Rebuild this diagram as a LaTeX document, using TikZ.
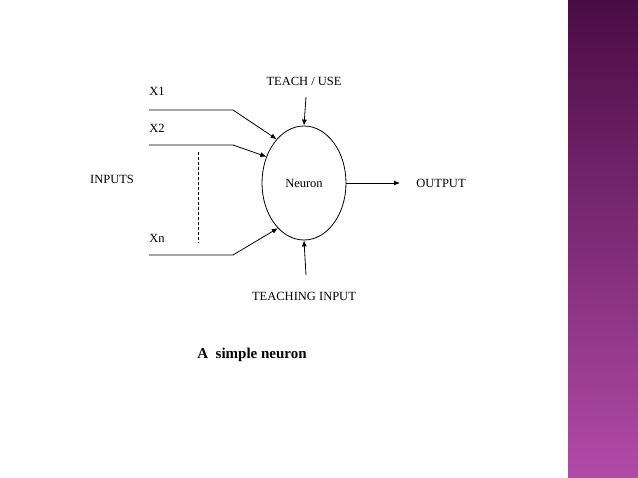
\documentclass[tikz,border=0pt]{standalone}
\usepackage{fontspec}
\setmainfont{Liberation Serif}
\usetikzlibrary{shapes.geometric,arrows.meta}
\definecolor{bandtop}{HTML}{4A0C45}
\definecolor{bandbot}{HTML}{B24BA8}
\begin{document}
\begin{tikzpicture}[x=1pt,y=-1pt,
  lbl/.style={font=\fontsize{12.5}{14}\selectfont, inner sep=1pt},
  wire/.style={line width=0.8pt},
  arr/.style={wire,-{Latex[length=6pt,width=5pt]}}]
\useasboundingbox (0,0) rectangle (638,478);
\fill[white] (0,0) rectangle (638,478);
\shade[top color=bandtop,bottom color=bandbot] (568,0) rectangle (638,478);
\node[ellipse,draw,line width=0.8pt,minimum width=84pt,minimum height=114pt,inner sep=0pt,lbl] (n) at (304,183) {Neuron};
\node[lbl] (x1) at (157,91) {X1};
\node[lbl] (x2) at (157,128) {X2};
\node[lbl] (xn) at (157,238) {Xn};
\node[lbl] (inp) at (112,179) {INPUTS};
\node[lbl] (tu) at (304,81) {TEACH / USE};
\node[lbl] (ti) at (304,296) {TEACHING INPUT};
\node[lbl] (out) at (441,183) {OUTPUT};
\node[font=\bfseries\fontsize{15}{17}\selectfont] (cap) at (252,355) {A\ \ simple neuron};
\coordinate (a1) at (149,110); \coordinate (b1) at (233,110);
\coordinate (a2) at (149,145); \coordinate (b2) at (233,145);
\coordinate (an) at (149,255); \coordinate (bn) at (233,255);
\coordinate (d1) at (198,152); \coordinate (d2) at (198,243);
\coordinate (ts) at (306,97); \coordinate (bs) at (306,275);
\coordinate (oe) at (400,183);
\draw[arr] (a1) -- (b1) -- (n.122);
\draw[arr] (a2) -- (b2) -- (n.145);
\draw[arr] (an) -- (bn) -- (n.240);
\draw[densely dashed,line width=0.5pt] (d1) -- (d2);
\draw[arr] (ts) -- (n.north);
\draw[arr] (bs) -- (n.south);
\draw[arr] (n.east) -- (oe);
\end{tikzpicture}
\end{document}
